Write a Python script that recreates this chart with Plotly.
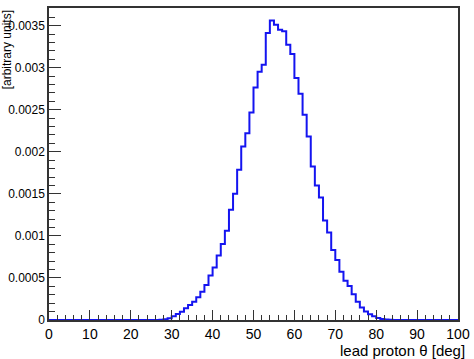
import plotly.graph_objects as go

# bin edges 0..100 deg, 1-degree bins
bin_low = list(range(0, 100))
bin_width = 1.0

# histogram contents (arbitrary units), one per bin
counts = (
    [0.0] * 27
    + [0.000003, 0.000008, 0.000020,                      # 27-29
       0.000045, 0.000070, 0.000099, 0.000139, 0.000179,  # 30-34
       0.000218, 0.000270, 0.000337, 0.000417, 0.000530,  # 35-39
       0.000623, 0.000766, 0.000905, 0.001060, 0.001310,  # 40-44
       0.001500, 0.001786, 0.002063, 0.002222, 0.002468,  # 45-49
       0.002766, 0.002952, 0.003036, 0.003413, 0.003560,  # 50-54
       0.003512, 0.003452, 0.003433, 0.003274, 0.003163,  # 55-59
       0.002877, 0.002690, 0.002440, 0.002183, 0.001825,  # 60-64
       0.001599, 0.001456, 0.001183, 0.001040, 0.000833,  # 65-69
       0.000714, 0.000575, 0.000468, 0.000405, 0.000306,  # 70-74
       0.000218, 0.000150, 0.000100, 0.000068, 0.000045,  # 75-79
       0.000025, 0.000012, 0.000005, 0.000002]            # 80-83
)
counts = counts + [0.0] * (100 - len(counts))

x_tickvals = [0, 10, 20, 30, 40, 50, 60, 70, 80, 90, 100]
x_ticktext = ["0", "10", "20", "30", "40", "50", "60", "70", "80", "90", "100"]
y_tickvals = [0, 0.0005, 0.001, 0.0015, 0.002, 0.0025, 0.003, 0.0035]
y_ticktext = ["0", "0.0005", "0.001", "0.0015", "0.002", "0.0025", "0.003", "0.0035"]

x_title = "lead proton θ [deg]"
y_title = "[arbitrary units]"

# step outline
xs = [b for b in bin_low] + [bin_low[-1] + bin_width]
ys = list(counts) + [counts[-1]]

FONT = "Liberation Sans, Arial, Helvetica, sans-serif"

fig = go.Figure()
fig.add_trace(go.Scatter(
    x=xs, y=ys, mode="lines", line_shape="hv",
    line=dict(color="#1414f0", width=2),
    hoverinfo="skip", showlegend=False,
))

fig.update_layout(
    width=474, height=359,
    margin=dict(l=49, r=16, t=8, b=39),
    paper_bgcolor="white", plot_bgcolor="white",
    font=dict(family=FONT, color="black"),
    showlegend=False,
)

fig.update_xaxes(
    range=[0, 100], showgrid=False, zeroline=False, automargin=False,
    showline=True, linecolor="#333", linewidth=1.5, mirror=True,
    ticks="inside", ticklen=10, tickwidth=1, tickcolor="#333",
    tickvals=x_tickvals, ticktext=x_ticktext,
    tickfont=dict(size=14, family=FONT, color="black"),
    minor=dict(dtick=2, ticks="inside", ticklen=5, tickwidth=1, tickcolor="#333", showgrid=False),
)
fig.update_yaxes(
    range=[0, 0.00371], showgrid=False, zeroline=False, automargin=False,
    showline=True, linecolor="#333", linewidth=1.5, mirror=True,
    ticks="inside", ticklen=12, tickwidth=1, tickcolor="#333",
    tickvals=y_tickvals, ticktext=y_ticktext,
    tickfont=dict(size=12, family=FONT, color="black"),
    minor=dict(dtick=0.0001, ticks="inside", ticklen=6, tickwidth=1, tickcolor="#333", showgrid=False),
)

fig.add_annotation(
    text=x_title, xref="paper", yref="paper",
    x=1.022, y=-0.098, xanchor="right", yanchor="middle",
    showarrow=False, font=dict(size=15, family=FONT, color="black"),
)
fig.add_annotation(
    text=y_title, xref="paper", yref="paper",
    x=-0.103, y=1.0, xanchor="center", yanchor="top", textangle=-90,
    showarrow=False, font=dict(size=12, family=FONT, color="black"),
)

fig.write_html("out.html", config={"displayModeBar": False},
               post_script="document.body.style.margin='0';")
